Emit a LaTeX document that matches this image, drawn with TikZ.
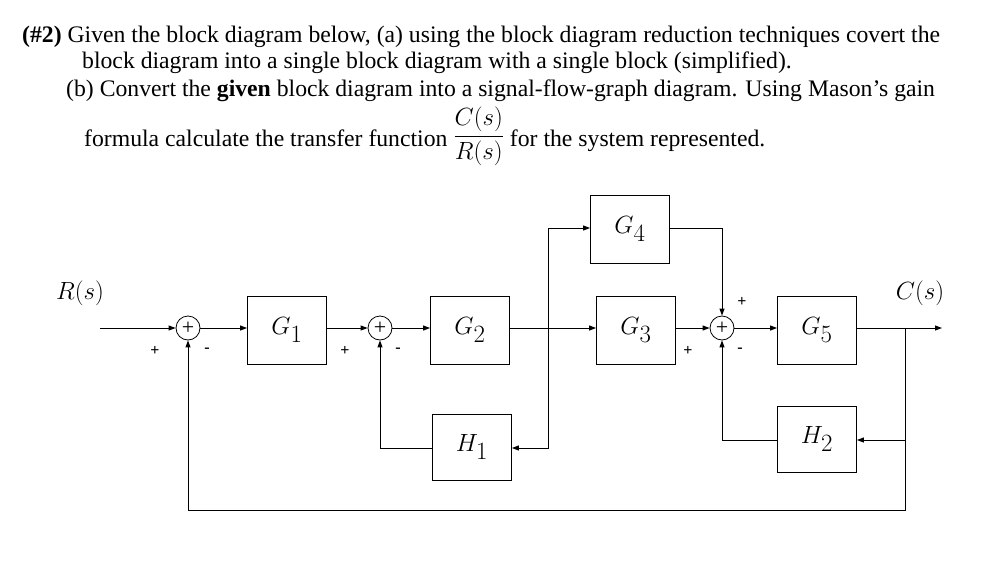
\documentclass[tikz,border=0pt]{standalone}
\usepackage{fontspec}
\setmainfont{Liberation Serif}
\usetikzlibrary{arrows.meta}
\begin{document}
\begin{tikzpicture}[x=1pt,y=-1pt,
 blk/.style={draw,line width=0.8pt,minimum width=79pt,minimum height=68pt,font=\fontsize{44}{44}\selectfont},
 sum/.style={draw,circle,line width=0.8pt,minimum size=24pt,inner sep=0pt,font=\fontsize{22}{22}\selectfont},
 ln/.style={line width=1pt},
 ar/.style={ln,-{Triangle[length=7pt,width=5pt]}},
 sg/.style={font=\bfseries\fontsize{16}{16}\selectfont},
 txt/.style={anchor=west,inner sep=0pt,font=\fontsize{23.7}{28}\selectfont}]
\useasboundingbox (0,0) rectangle (997,584);
\node[txt] (t1) at (22,37) {\textbf{(\#2)} Given the block diagram below, (a) using the block diagram reduction techniques covert the};
\node[txt] (t2) at (82,63) {block diagram into a single block diagram with a single block (simplified).};
\node[txt] (t3) at (66,91) {(b) Convert the \textbf{given} block diagram into a signal-flow-graph diagram. Using Mason’s gain};
\node[txt] (t4) at (84,136) {formula calculate the transfer function \raisebox{4pt}{$\displaystyle\frac{C(s)}{R(s)}$} for the system represented.};

\node[sum] (s1) at (188,328) {+};
\node[sum] (s2) at (380,328) {+};
\node[sum] (s3) at (722,328) {+};
\node[blk] (g1) at (287,330) {$G_1$};
\node[blk] (g2) at (470,330) {$G_2$};
\node[blk] (g3) at (636,330) {$G_3$};
\node[blk] (g4) at (630,229) {$G_4$};
\node[blk] (g5) at (817,330) {$G_5$};
\node[blk,minimum height=66pt] (h1) at (472,447) {$H_1$};
\node[blk,minimum height=66pt] (h2) at (817,439) {$H_2$};
\node[font=\fontsize{32}{32}\selectfont] (r) at (80,293) {$R(s)$};
\node[font=\fontsize{30}{30}\selectfont] (c) at (920,293) {$C(s)$};

\coordinate (in) at (100,328);
\coordinate (out) at (942,328);
\coordinate (br) at (548,328);
\coordinate (fb) at (905,328);
\draw[ar] (in) -- (s1);
\draw[ar] (s1) -- (g1.west|-s1);
\draw[ar] (g1.east|-s2) -- (s2);
\draw[ar] (s2) -- (g2.west|-s2);
\draw[ar] (g2.east|-br) -- (g3.west|-br);
\draw[ar] (g3.east|-s3) -- (s3);
\draw[ar] (s3) -- (g5.west|-s3);
\draw[ar] (g5.east|-fb) -- (out);
\draw[ar] (br) |- (g4.west|-228,228);
\draw[ar] (br) |- (h1.east|-448,448);
\draw[ar] (h1.west|-448,448) -| (s2.south);
\draw[ar] (g4.east|-228,228) -| (s3.north);
\draw[ar] (fb) |- (h2.east|-440,440);
\draw[ar] (h2.west|-440,440) -| (s3.south);
\draw[ar] (fb) |- (188,510) -- (s1.south);

\node[sg] at (155,351) {+};
\node[sg] at (207,350) {-};
\node[sg] at (345,351) {+};
\node[sg] at (398,350) {-};
\node[sg] at (742,302) {+};
\node[sg] at (688,351) {+};
\node[sg] at (740,350) {-};
\end{tikzpicture}
\end{document}
